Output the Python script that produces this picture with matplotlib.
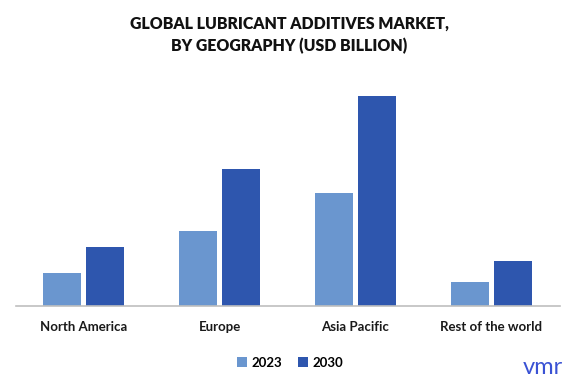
import matplotlib
matplotlib.use("Agg")
import matplotlib.pyplot as plt
import numpy as np

categories = ["North America", "Europe", "Asia Pacific", "Rest of the world"]
series_names = ["2023", "2030"]
values_2023 = [1.32, 3.00, 4.52, 0.96]
values_2030 = [2.36, 5.48, 8.40, 1.80]

plt.rcParams['font.family'] = ['Lato', 'DejaVu Sans']

fig = plt.figure(figsize=(5.79, 3.85), dpi=100)
ax = fig.add_axes([15.5/579, 1-306/385, 544/579, 226/385])

x = np.arange(len(categories))
w = 0.28
off = 0.158
c1 = "#6a96cf"
c2 = "#2e56ae"
ax.bar(x - off, values_2023, w, color=c1, label=series_names[0])
ax.bar(x + off, values_2030, w, color=c2, label=series_names[1])

ax.set_xlim(-0.5, 3.5)
ax.set_ylim(0, 9.04)
for s in ["top", "right", "left"]:
    ax.spines[s].set_visible(False)
ax.spines["bottom"].set_color("#bfbfbf")
ax.spines["bottom"].set_linewidth(1.2)
ax.set_yticks([])
ax.set_xticks(x)
ax.set_xticklabels(categories, fontsize=9.5, fontweight="bold", color="#1a1a1a")
ax.tick_params(axis="x", length=0, pad=11)

fig.text(0.5, 1-35/385, "GLOBAL LUBRICANT ADDITIVES MARKET,\nBY GEOGRAPHY (USD BILLION)",
         ha="center", va="center", fontsize=11.4, fontweight="heavy", color="#111111",
         linespacing=1.4)

leg = fig.legend(loc="center", bbox_to_anchor=(290/579, 1-363/385), ncol=2, frameon=False,
                 handlelength=0.8, handleheight=0.8, handletextpad=0.3,
                 columnspacing=1.2, prop={"weight": "bold", "size": 9.5})

fig.text(543/579, 1-368/385, "vmr", ha="center", va="center", fontsize=17,
         color="#3a52d4", fontweight="normal")

fig.savefig("out.png", dpi=100)
